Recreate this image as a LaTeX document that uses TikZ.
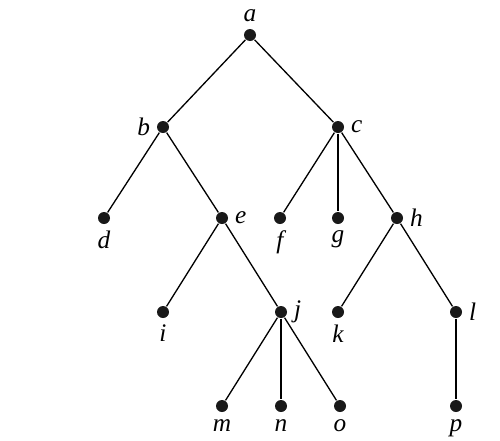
\documentclass[tikz,border=0pt]{standalone}
\usepackage{fontspec}
\setmainfont{Liberation Serif}
\usepackage{tikz}
\usetikzlibrary{positioning}

\begin{document}
\begin{tikzpicture}[x=0.02cm, y=-0.02cm, vertex/.style={circle, fill=black!90, inner sep=0pt, minimum size=0.24cm}, label distance=0.08cm, every label/.style={font=\itshape\Large, inner sep=1pt}, line width=0.75pt]
\useasboundingbox (0,0) rectangle (500,440);
\node[vertex, label=above:a] (a) at (250,35) {};
\node[vertex, label=left:b] (b) at (163,127) {};
\node[vertex, label=right:c] (c) at (338,127) {};
\node[vertex, label=below:d] (d) at (104,218) {};
\node[vertex, label=right:e] (e) at (222,218) {};
\node[vertex, label=below:f] (f) at (280,218) {};
\node[vertex, label=below:g] (g) at (338,218) {};
\node[vertex, label=right:h] (h) at (397,218) {};
\node[vertex, label=below:i] (i) at (163,312) {};
\node[vertex, label=right:j] (j) at (281,312) {};
\node[vertex, label=below:k] (k) at (338,312) {};
\node[vertex, label=right:l] (l) at (456,312) {};
\node[vertex, label=below:m] (m) at (222,406) {};
\node[vertex, label=below:n] (n) at (281,406) {};
\node[vertex, label=below:o] (o) at (340,406) {};
\node[vertex, label=below:p] (p) at (456,406) {};

\draw (a) -- (b);
\draw (a) -- (c);
\draw (b) -- (d);
\draw (b) -- (e);
\draw (c) -- (f);
\draw (c) -- (g);
\draw (c) -- (h);
\draw (e) -- (i);
\draw (e) -- (j);
\draw (h) -- (k);
\draw (h) -- (l);
\draw (j) -- (m);
\draw (j) -- (n);
\draw (j) -- (o);
\draw (l) -- (p);
\end{tikzpicture}
\end{document}
